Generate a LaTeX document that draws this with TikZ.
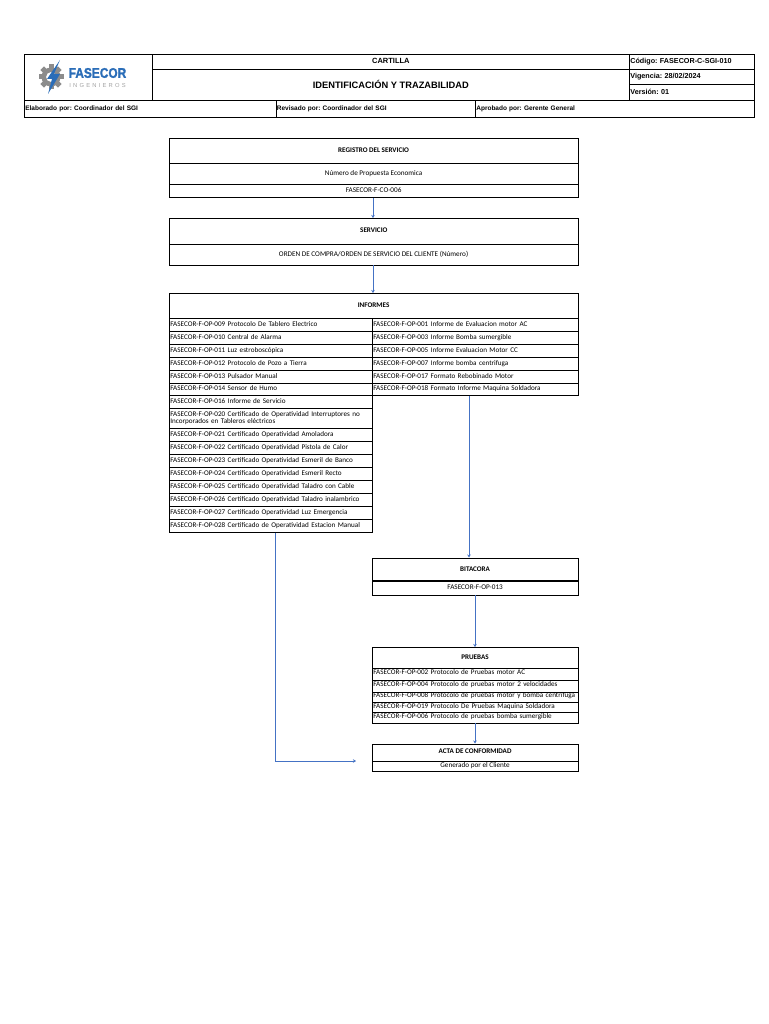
\documentclass[tikz,border=0pt]{standalone}
\usepackage{xcolor}
\usepackage{fontspec}
\setmainfont{Carlito}
\newfontfamily\headfont{Liberation Sans}
\usetikzlibrary{arrows.meta, positioning, calc}
\definecolor{flowblue}{HTML}{4472C4}
\definecolor{logoblue}{HTML}{2A6DB8}
\definecolor{logogray}{HTML}{8C8C8C}
\frenchspacing
\tikzset{
    cellbox/.style={draw, line width=0.7pt, anchor=north west, inner sep=0pt, text depth=1.5pt},
    titlecell/.style={cellbox, align=center, font=\fontsize{7.1}{8}\selectfont\bfseries},
    textcell/.style={cellbox, align=center, font=\fontsize{7.2}{8}\selectfont},
    rowcell/.style={cellbox, align=left, text width=#1-2pt, minimum width=#1, inner xsep=1pt, font=\fontsize{7.15}{6.8}\selectfont},
    headcell/.style={draw, line width=0.7pt, anchor=north west, inner sep=1pt, text depth=1pt, font=\headfont\fontsize{7.2}{8}\selectfont\bfseries},
    footcell/.style={headcell, align=left, font=\headfont\fontsize{6.5}{7}\selectfont\bfseries},
    flowarrow/.style={draw=flowblue, line width=1pt, -{Stealth[length=3pt, width=3.5pt]}}
}
\begin{document}
\begin{tikzpicture}[x=1pt, y=-1pt]
    \useasboundingbox (0,0) rectangle (768,1024);
    \fill[white] (0,0) rectangle (768,1024);

    % cabecera
    \node[headcell, minimum width=128pt, minimum height=46pt] (logobox) at (24,54) {};
    \node[headcell, minimum width=477pt, minimum height=15pt, font=\headfont\fontsize{7.5}{8}\selectfont\bfseries] (cartilla) at (152,54) {CARTILLA};
    \node[headcell, minimum width=477pt, minimum height=31pt, font=\headfont\fontsize{9.3}{10}\selectfont\bfseries] (titulo) at (152,69) {IDENTIFICACIÓN Y TRAZABILIDAD};
    \node[headcell, minimum width=125pt, minimum height=15pt, align=left, text width=123pt] (codigo) at (629,54) {Código: FASECOR-C-SGI-010};
    \node[headcell, minimum width=125pt, minimum height=15pt, align=left, text width=123pt] (vigencia) at (629,69) {\raisebox{1.5pt}{Vigencia: 28/02/2024}};
    \node[headcell, minimum width=125pt, minimum height=16pt, align=left, text width=123pt] (version) at (629,84) {Versión: 01};
    \node[footcell, minimum width=251.5pt, minimum height=17.5pt, text width=249.5pt] (elaborado) at (24,100) {Elaborado por: Coordinador del SGI};
    \node[footcell, minimum width=199.5pt, minimum height=17.5pt, text width=197.5pt] (revisado) at (275.5,100) {Revisado por: Coordinador del SGI};
    \node[footcell, minimum width=279pt, minimum height=17.5pt, text width=277pt] (aprobado) at (475,100) {Aprobado por: Gerente General};

    % logo
    \fill[logogray, even odd rule] (51,77) circle (9.5pt) (51,77) circle (5pt);
    \foreach \ang in {0,45,...,315}
        \fill[logogray, rotate around={\ang:(51,77)}] (48.5,64.5) rectangle (53.5,68.5);
    \fill[logoblue] (60,60) -- (47,79) -- (52,79) -- (48,94) -- (60,74) -- (54,74) -- cycle;
    \node[inner sep=0pt, text=logoblue, xscale=0.85, font=\headfont\fontsize{14}{15}\selectfont\bfseries\addfontfeature{FakeBold=1.5}] (marca) at (97.5,73) {FASECOR};
    \node[inner sep=0pt, text=logogray!80, font=\headfont\fontsize{5.8}{7}\selectfont\addfontfeature{LetterSpace=38}] (ingenieros) at (97.5,85.5) {INGENIEROS};

    % registro del servicio
    \node[titlecell, minimum width=408.5pt, minimum height=25pt] (registro) at (169,138) {REGISTRO DEL SERVICIO};
    \node[textcell, minimum width=408.5pt, minimum height=21pt] (propuesta) at (169,163) {Número de Propuesta Economica};
    \node[textcell, minimum width=408.5pt, minimum height=13.5pt] (codprop) at (169,184) {FASECOR-F-CO-006};

    % servicio
    \node[titlecell, minimum width=408.5pt, minimum height=25.5pt, line width=1.1pt] (servicio) at (169,218) {SERVICIO};
    \node[textcell, minimum width=408.5pt, minimum height=21pt] (orden) at (169,243.5) {ORDEN DE COMPRA/ORDEN DE SERVICIO DEL CLIENTE (Número)};

    % informes
    \node[titlecell, minimum width=408.5pt, minimum height=25pt] (informes) at (169,293) {INFORMES};
    \foreach \name/\ypos/\hgt/\txt in {
        a/318/13/FASECOR-F-OP-009 Protocolo De Tablero Electrico,
        b/331/13/FASECOR-F-OP-010 Central de Alarma,
        c/344/12.7/FASECOR-F-OP-011 Luz estroboscópica,
        d/356.7/12.8/FASECOR-F-OP-012 Protocolo de Pozo a Tierra,
        e/369.5/13/FASECOR-F-OP-013 Pulsador Manual,
        f/382.5/12.7/FASECOR-F-OP-014 Sensor de Humo,
        g/395.2/12.5/FASECOR-F-OP-016 Informe de Servicio,
        h/407.7/19.8/{\raisebox{0pt}[11.8pt][0pt]{\parbox[b]{201pt}{FASECOR-F-OP-020 Certificado de Operatividad Interruptores no\\Incorporados en Tableros eléctricos}}},
        i/427.5/13/FASECOR-F-OP-021 Certificado Operatividad Amoladora,
        j/440.5/13/FASECOR-F-OP-022 Certificado Operatividad Pistola de Calor,
        k/453.5/13/FASECOR-F-OP-023 Certificado Operatividad Esmeril de Banco,
        l/466.5/13/FASECOR-F-OP-024 Certificado Operatividad Esmeril Recto,
        m/479.5/13/FASECOR-F-OP-025 Certificado Operatividad Taladro con Cable,
        n/492.5/13/FASECOR-F-OP-026 Certificado Operatividad Taladro inalambrico,
        o/505.5/13/FASECOR-F-OP-027 Certificado Operatividad Luz Emergencia,
        p/518.5/13.5/FASECOR-F-OP-028 Certificado de Operatividad Estacion Manual}
        \node[rowcell=203pt, minimum height=\hgt pt] (izq\name) at (169,\ypos) {\txt};
    \foreach \name/\ypos/\hgt/\txt in {
        a/318/13/FASECOR-F-OP-001 Informe de Evaluacion motor AC,
        b/331/13/FASECOR-F-OP-003 Informe Bomba sumergible,
        c/344/12.7/FASECOR-F-OP-005 Informe Evaluacion Motor CC,
        d/356.7/12.8/FASECOR-F-OP-007 Informe bomba centrifuga,
        e/369.5/13/FASECOR-F-OP-017 Formato Rebobinado Motor,
        f/382.5/12.7/FASECOR-F-OP-018 Formato Informe Maquina Soldadora}
        \node[rowcell=205.5pt, minimum height=\hgt pt] (der\name) at (372,\ypos) {\txt};

    % bitacora
    \node[titlecell, minimum width=205.5pt, minimum height=23.5pt] (bitacora) at (372,557.5) {BITACORA};
    \node[textcell, minimum width=205.5pt, minimum height=13.5pt] (codbit) at (372,581) {FASECOR-F-OP-013};
    \draw[line width=1.1pt] (codbit.north west) -- (codbit.north east);

    % pruebas
    \node[titlecell, minimum width=205.5pt, minimum height=21pt] (pruebas) at (372,647) {PRUEBAS};
    \draw[line width=1.1pt] (pruebas.south west) -- (pruebas.south east);
    \foreach \name/\ypos/\hgt/\lift/\txt in {
        a/668/12/1.2/FASECOR-F-OP-002 Protocolo de Pruebas motor AC,
        b/680/12/1.2/FASECOR-F-OP-004 Protocolo de pruebas motor 2 velocidades,
        c/692/10/1.2/FASECOR-F-OP-008 Protocolo de pruebas motor y bomba centrifuga,
        d/702/10/0.6/FASECOR-F-OP-019 Protocolo De Pruebas Maquina Soldadora,
        e/712/10.5/0.6/FASECOR-F-OP-006 Protocolo de pruebas bomba sumergible}
        \node[rowcell=205.5pt, minimum height=\hgt pt] (prueba\name) at (372,\ypos) {\raisebox{\lift pt}[5pt][0pt]{\txt}};

    % acta
    \node[titlecell, minimum width=205.5pt, minimum height=17pt] (acta) at (372,743.5) {ACTA DE CONFORMIDAD};
    \node[textcell, minimum width=205.5pt, minimum height=10.5pt] (generado) at (372,760.5) {Generado por el Cliente};

    % flechas
    \coordinate (finacta) at (356,761);
    \draw[flowarrow] (codprop.south -| 373,0) -- (servicio.north -| 373,0);
    \draw[flowarrow] (orden.south -| 373,0) -- (informes.north -| 373,0);
    \draw[flowarrow] (derf.south -| 469,0) -- (bitacora.north -| 469,0);
    \draw[flowarrow] (codbit.south -| 475,0) -- (pruebas.north -| 475,0);
    \draw[flowarrow] (pruebae.south -| 475,0) -- (acta.north -| 475,0);
    \draw[flowarrow] (izqp.south -| 275.5,0) -- (275.5,761) -- (finacta);
\end{tikzpicture}
\end{document}
